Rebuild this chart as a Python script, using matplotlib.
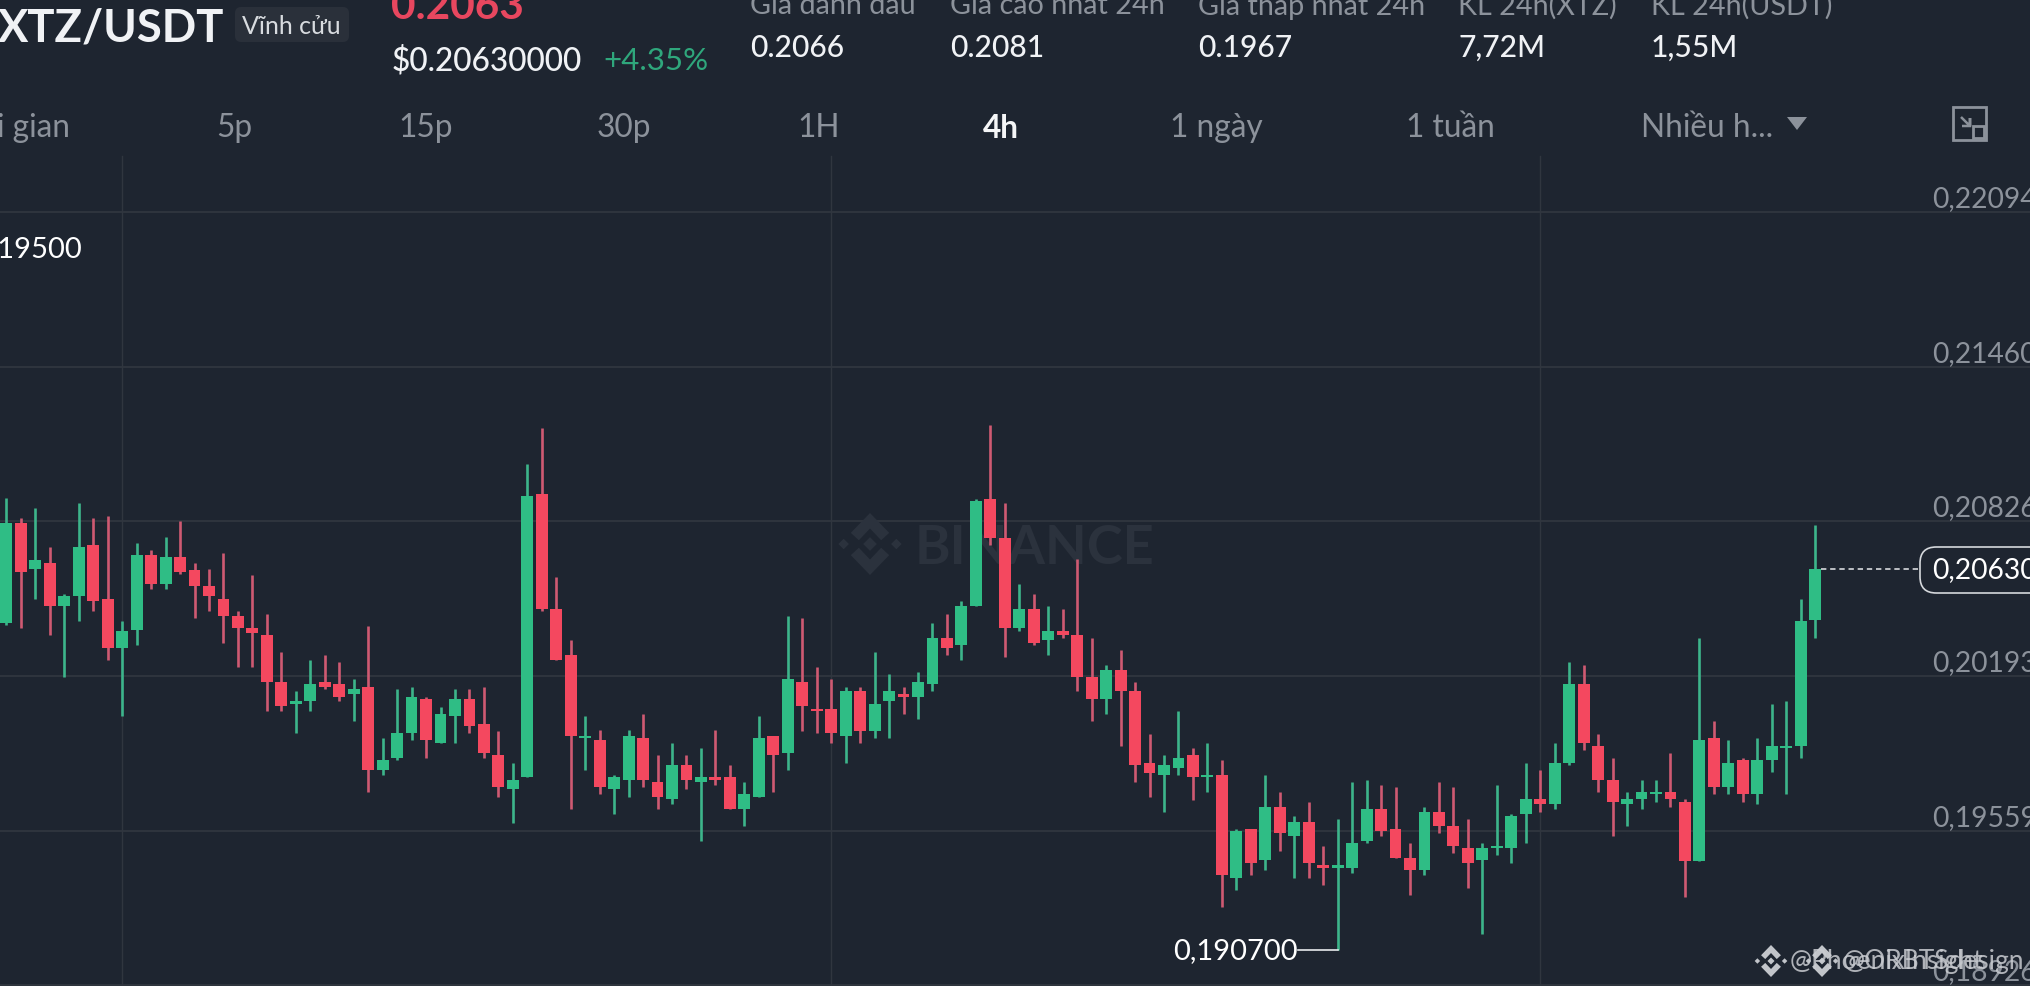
import matplotlib
matplotlib.use("Agg")
import matplotlib.pyplot as plt
from matplotlib.patches import Polygon, FancyBboxPatch, Rectangle

W, H = 2030, 987
BG = "#1E2530"
GRID = "#30363F"
GREEN = "#2FBD85"
RED = "#F4485F"
WICK_G = "#3DB58B"
WICK_R = "#CF5A72"
MUTED = "#8C929B"
plt.rcParams["font.family"] = ["Lato", "DejaVu Sans"]

highs = [0.20920,0.20838,0.20879,0.20720,0.20529,0.20900,0.20839,0.20849,0.20419,0.20738,
 0.20708,0.20760,0.20828,0.20657,0.20630,0.20698,0.20459,0.20608,0.20448,0.20289,
 0.20129,0.20259,0.20279,0.20248,0.20178,0.20399,0.19939,0.20138,0.20148,0.20108,
 0.20067,0.20138,0.20138,0.20148,0.19967,0.19837,0.21060,0.21210,0.20598,0.20338,
 0.20029,0.19969,0.19787,0.19969,0.20038,0.19867,0.19917,0.19867,0.19897,0.19969,
 0.19826,0.19757,0.20029,0.19948,0.20438,0.20429,0.20229,0.20178,0.20148,0.20148,
 0.20289,0.20199,0.20148,0.20207,0.20408,0.20448,0.20498,0.20919,0.21221,0.20900,
 0.20568,0.20529,0.20478,0.20468,0.20670,0.20349,0.20238,0.20300,0.20169,0.19956,
 0.19867,0.20048,0.19897,0.19918,0.19847,0.19566,0.19566,0.19788,0.19717,0.19617,
 0.19677,0.19496,0.19606,0.19757,0.19767,0.19747,0.19737,0.19506,0.19657,0.19757,
 0.19737,0.19607,0.19506,0.19747,0.19626,0.19837,0.19807,0.19918,0.20248,0.20238,
 0.19956,0.19858,0.19717,0.19767,0.19767,0.19878,0.19687,0.20348,0.20008,0.19928,
 0.19858,0.19939,0.20078,0.20088,0.20508,0.20811]
lows = [0.20400,0.20388,0.20508,0.20359,0.20188,0.20419,0.20459,0.20259,0.20030,0.20318,
 0.20549,0.20549,0.20609,0.20429,0.20459,0.20329,0.20229,0.20229,0.20048,0.20048,
 0.19959,0.20048,0.20138,0.20088,0.20008,0.19718,0.19788,0.19847,0.19928,0.19858,
 0.19918,0.19918,0.19958,0.19858,0.19698,0.19588,0.19777,0.20459,0.20259,0.19647,
 0.19807,0.19707,0.19626,0.19698,0.19737,0.19647,0.19667,0.19728,0.19517,0.19747,
 0.19647,0.19577,0.19698,0.19717,0.19807,0.19967,0.19958,0.19918,0.19837,0.19918,
 0.19937,0.19937,0.20038,0.20018,0.20129,0.20278,0.20259,0.20479,0.20728,0.20268,
 0.20378,0.20318,0.20278,0.20349,0.20129,0.20008,0.20038,0.19906,0.19757,0.19698,
 0.19636,0.19788,0.19685,0.19717,0.19246,0.19316,0.19376,0.19396,0.19476,0.19366,
 0.19366,0.19336,0.19070,0.19387,0.19506,0.19536,0.19447,0.19296,0.19376,0.19547,
 0.19466,0.19325,0.19135,0.19457,0.19427,0.19506,0.19637,0.19647,0.19828,0.19887,
 0.19717,0.19537,0.19577,0.19647,0.19677,0.19657,0.19287,0.19436,0.19707,0.19707,
 0.19677,0.19667,0.19798,0.19707,0.19858,0.20349]
opens = [0.20410,0.20817,0.20630,0.20657,0.20479,0.20520,0.20728,0.20508,0.20308,0.20379,
 0.20687,0.20568,0.20678,0.20628,0.20559,0.20508,0.20438,0.20389,0.20359,0.20169,
 0.20078,0.20088,0.20169,0.20158,0.20118,0.20148,0.19808,0.19856,0.19958,0.20099,
 0.19918,0.20029,0.20097,0.19997,0.19867,0.19728,0.19777,0.20939,0.20468,0.20278,
 0.19937,0.19928,0.19728,0.19767,0.19937,0.19757,0.19687,0.19826,0.19757,0.19777,
 0.19777,0.19647,0.19698,0.19948,0.19878,0.20169,0.20058,0.20058,0.19948,0.20129,
 0.19967,0.20088,0.20118,0.20108,0.20159,0.20349,0.20318,0.20479,0.20919,0.20759,
 0.20388,0.20468,0.20338,0.20378,0.20359,0.20188,0.20099,0.20218,0.20129,0.19837,
 0.19788,0.19817,0.19867,0.19778,0.19788,0.19366,0.19566,0.19437,0.19657,0.19537,
 0.19596,0.19417,0.19406,0.19406,0.19517,0.19647,0.19566,0.19447,0.19396,0.19636,
 0.19577,0.19487,0.19437,0.19487,0.19487,0.19626,0.19687,0.19666,0.19837,0.20158,
 0.19907,0.19767,0.19667,0.19687,0.19707,0.19717,0.19677,0.19436,0.19937,0.19737,
 0.19847,0.19707,0.19847,0.19899,0.19907,0.20420]
closes = [0.20817,0.20619,0.20667,0.20479,0.20518,0.20719,0.20498,0.20308,0.20378,0.20687,
 0.20568,0.20678,0.20619,0.20559,0.20519,0.20440,0.20389,0.20368,0.20169,0.20069,
 0.20088,0.20158,0.20148,0.20108,0.20138,0.19808,0.19847,0.19958,0.20108,0.19928,
 0.20037,0.20097,0.19988,0.19878,0.19737,0.19767,0.20928,0.20468,0.20259,0.19948,
 0.19948,0.19737,0.19777,0.19948,0.19767,0.19698,0.19826,0.19767,0.19777,0.19766,
 0.19647,0.19707,0.19937,0.19867,0.20178,0.20069,0.20048,0.19958,0.20129,0.19967,
 0.20078,0.20129,0.20108,0.20169,0.20349,0.20308,0.20478,0.20909,0.20759,0.20388,
 0.20468,0.20329,0.20378,0.20359,0.20188,0.20099,0.20218,0.20129,0.19828,0.19796,
 0.19828,0.19858,0.19777,0.19788,0.19376,0.19557,0.19428,0.19657,0.19547,0.19596,
 0.19428,0.19406,0.19417,0.19506,0.19647,0.19557,0.19447,0.19396,0.19636,0.19577,
 0.19496,0.19427,0.19487,0.19496,0.19617,0.19687,0.19666,0.19837,0.20158,0.19917,
 0.19767,0.19677,0.19687,0.19717,0.19717,0.19687,0.19436,0.19928,0.19737,0.19837,
 0.19707,0.19847,0.19907,0.19907,0.20418,0.20630]

price_ticks = [0.22094, 0.21460, 0.20826, 0.20193, 0.19559, 0.18926]
price_labels = ["0,22094", "0,21460", "0,20826", "0,20193", "0,19559", "0,18926"]
time_grid = [8, 57, 106]
last_price = 0.20630
low_mark = 0.19070
high_mark = 0.21950

intervals = ["5p", "15p", "30p", "1H", "1 ngày", "1 tuần"]
interval_x = [234, 426, 624, 819, 1216, 1450]
stat_titles = ["Giá đánh dấu", "Giá cao nhất 24h", "Giá thấp nhất 24h", "KL 24h(XTZ)", "KL 24h(USDT)"]
stat_values = ["0.2066", "0.2081", "0.1967", "7,72M", "1,55M"]
stat_x = [750, 950, 1198, 1458, 1651]

fig = plt.figure(figsize=(W / 100, H / 100), dpi=100, facecolor=BG)
ax = fig.add_axes([0, 0, 1, 1], facecolor=BG)

# axis mapping: candle pitch 14.47 px, price scale 0.00634 per 154.75 px
PITCH = 14.47
X0 = 6.4
ax.set_xlim(-X0 / PITCH, (W - X0) / PITCH)
PX = 0.00634 / 154.75
Y826 = 522.3
ax.set_ylim(0.20826 - (H - Y826) * PX, 0.20826 + Y826 * PX)
for s in ax.spines.values():
    s.set_visible(False)
ax.set_xticks([])
ax.set_yticks([])


def fx(x):
    return x / W


def fy(y):
    return 1 - y / H


def t(x, y, s, **kw):
    kw.setdefault("va", "center")
    kw.setdefault("ha", "left")
    return fig.text(fx(x), fy(y), s, **kw)


CHEV = ([(-0.62, -0.36), (0, -1.0), (0.62, -0.36), (0.36, -0.12), (0, -0.5), (-0.36, -0.12)],
        [(-0.62, 0.36), (0, 1.0), (0.62, 0.36), (0.36, 0.12), (0, 0.5), (-0.36, 0.12)])
DOTS = [(-0.85, 0, 0.17), (0.85, 0, 0.17), (0, 0, 0.22)]


def logo_shapes(cx, cy, r):
    shapes = [[(fx(cx + a * r), fy(cy + b * r)) for a, b in pts] for pts in CHEV]
    for a, b, s in DOTS:
        pts = [(a, b - s), (a + s, b), (a, b + s), (a - s, b)]
        shapes.append([(fx(cx + p * r), fy(cy + q * r)) for p, q in pts])
    return shapes


# grid
for p in price_ticks:
    ax.axhline(p, color=GRID, lw=1.3, zorder=1)
for i in time_grid:
    ax.axvline(i, ymin=0, ymax=1 - 157 / H, color=GRID, lw=1.0, zorder=1)

# centre watermark
ax.text(fx(915), fy(549), "BINANCE", transform=ax.transAxes, color="#2B323D", fontsize=39,
        fontweight="bold", va="center", ha="left", zorder=1.5)
for shp in logo_shapes(870, 545, 31):
    ax.add_patch(Polygon(shp, closed=True, fc="#2B323D", ec="none", transform=ax.transAxes, zorder=1.5))

# candles
idx = list(range(len(closes)))
up = [c >= o for o, c in zip(opens, closes)]
ax.vlines(idx, lows, highs, colors=[WICK_G if u else WICK_R for u in up], lw=1.9, zorder=3)
ax.bar(idx, [abs(c - o) for o, c in zip(opens, closes)], bottom=[min(o, c) for o, c in zip(opens, closes)],
       width=0.82, color=[GREEN if u else RED for u in up], linewidth=0, zorder=4)

# price scale labels
for p, lab in zip(price_ticks, price_labels):
    ax.annotate(lab, xy=(1932 / W, p), xycoords=("axes fraction", "data"), xytext=(0, 10.0),
                textcoords="offset points", color=MUTED, fontsize=20.3, va="center", ha="left", zorder=5,
                annotation_clip=False)

# last price
ax.plot([125.4, (1919 - X0) / PITCH], [last_price, last_price], color="#E8EAED", lw=1.1,
        dashes=(3.5, 2.5), zorder=5)
fig.add_artist(FancyBboxPatch((fx(1920), fy(594)), fx(160), 46 / H, boxstyle="round,pad=0,rounding_size=0.008",
                              mutation_aspect=2.06, fc=BG, ec="#D5D8DC", lw=1.2, transform=fig.transFigure, zorder=6))
fig.text(fx(1932), fy(570), "0,20630", color="white", fontsize=20.3, va="center", ha="left", zorder=7)

# extreme markers
ax.plot([(1298 - X0) / PITCH, 92], [low_mark, low_mark], color="#E8EAED", lw=1.2, zorder=3)
ax.annotate("0,190700", xy=((1298 - X0) / PITCH, low_mark), color="white", fontsize=21, va="center", ha="right", zorder=5)
ax.annotate("0,219500", xy=((82 - X0) / PITCH, high_mark), xytext=(0, -1), textcoords="offset points",
            color="white", fontsize=21, va="center", ha="right", zorder=5)

# header
t(-2, 28, "XTZ/USDT", color="#F0F2F5", fontsize=32.7, fontweight="bold")
fig.add_artist(FancyBboxPatch((fx(235), fy(43)), 114 / W, 35 / H, boxstyle="round,pad=0,rounding_size=0.003",
                              mutation_aspect=2.06, fc="#2A303A", ec="none", transform=fig.transFigure))
t(291, 27, "Vĩnh cửu", color="#D8DBDF", fontsize=18, ha="center")
t(391, 7, "0.2063", color="#E8475F", fontsize=30.5, fontweight="bold")
t(392, 61, "$0.20630000", color="#F0F2F5", fontsize=22.8, fontweight="medium")
t(603, 61, "+4.35%", color="#2FA77C", fontsize=22.5)
for x, a, b in zip(stat_x, stat_titles, stat_values):
    t(x, 6, a, color=MUTED, fontsize=20.7)
    t(x, 48, b, color="#F0F2F5", fontsize=21.6, fontweight="medium")

# tabs
t(70, 128, "Thời gian", color=MUTED, fontsize=22.8, ha="right")
for x, lab in zip(interval_x, intervals):
    t(x, 128, lab, color=MUTED, fontsize=22.8, ha="center")
t(1001, 128, "4h", color="#F5F6F7", fontsize=22.8, ha="center", fontweight="bold")
t(1641, 128, "Nhiều h...", color=MUTED, fontsize=22.8)
fig.add_artist(Polygon([(fx(1787), fy(118)), (fx(1807), fy(118)), (fx(1797), fy(131))], closed=True,
                       fc=MUTED, ec="none", transform=fig.transFigure))
# layout icon
for (x0, y0, x1, y1) in [(1953, 108, 1986, 141), (1973, 127, 1984, 139)]:
    fig.add_artist(Rectangle((fx(x0), fy(y1)), (x1 - x0) / W, (y1 - y0) / H, fc="none", ec=MUTED, lw=2.0,
                             transform=fig.transFigure))
fig.add_artist(Polygon([(fx(1961), fy(118)), (fx(1970), fy(127)), (fx(1970), fy(119)), (fx(1970), fy(127)), (fx(1962), fy(127))],
                       closed=False, fc="none", ec=MUTED, lw=1.8, transform=fig.transFigure))

# bottom-right overlapped watermarks
for cx in (1771, 1822):
    for shp in logo_shapes(cx, 962, 16):
        fig.add_artist(Polygon(shp, closed=True, fc="#D5D8DC", ec="none", alpha=0.9, transform=fig.transFigure, zorder=8))
t(1790, 962, "@PhoenixInsight", color="#C9CCD1", fontsize=19, alpha=0.85, zorder=8)
t(1843, 962, "@ORBTSdesign", color="#C9CCD1", fontsize=19, alpha=0.85, zorder=8)

fig.savefig("out.png", dpi=100, facecolor=BG)
